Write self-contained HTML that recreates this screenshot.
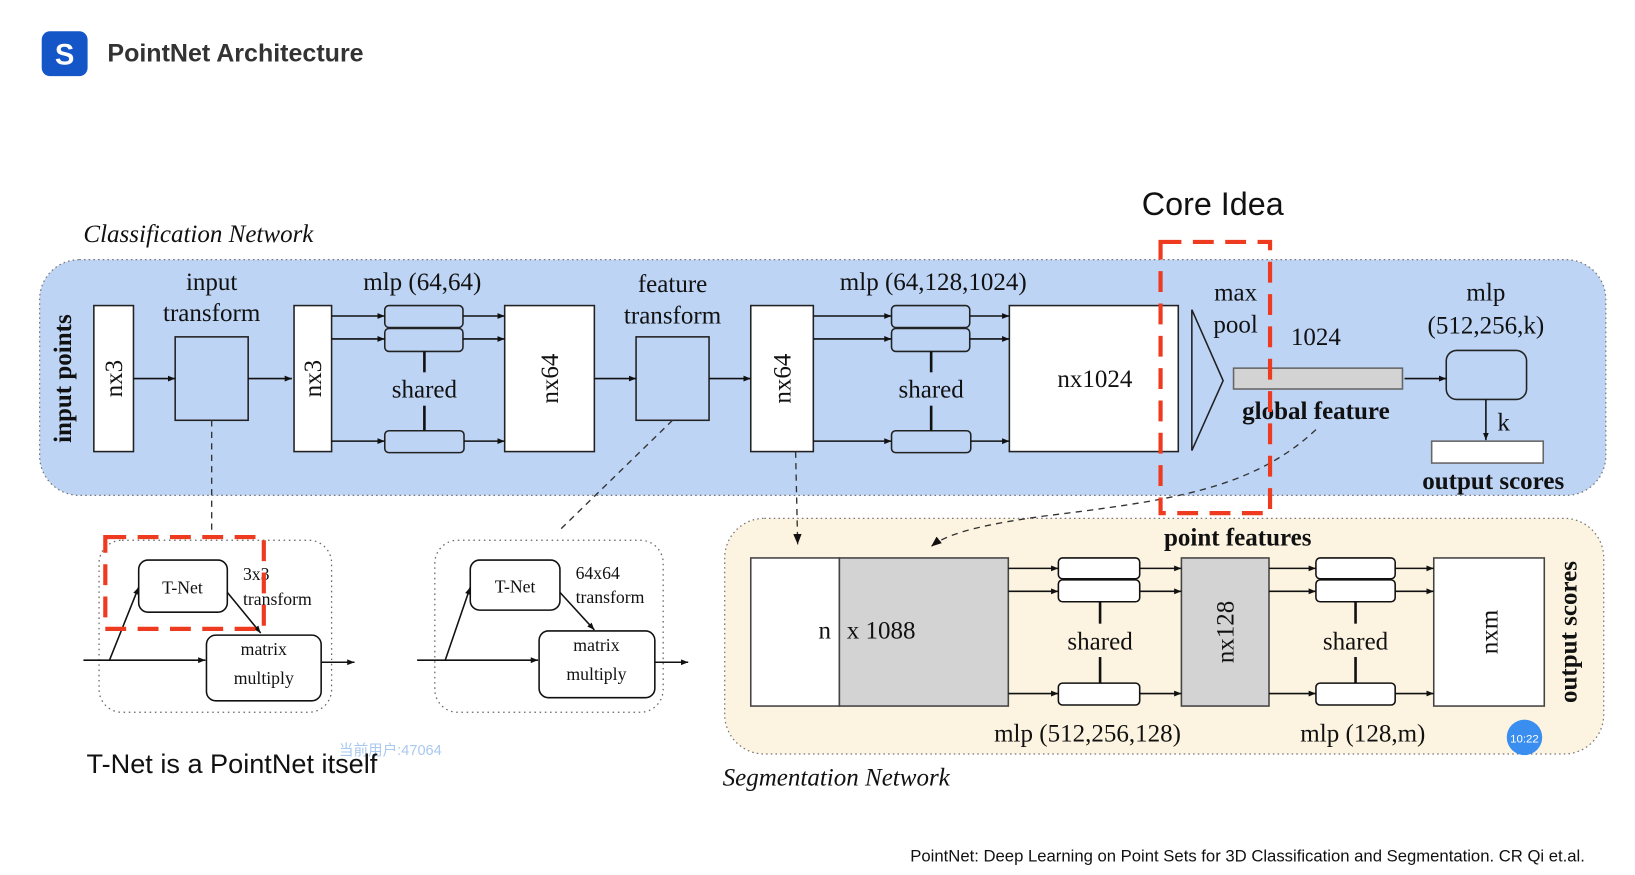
<!DOCTYPE html>
<html><head><meta charset="utf-8"><style>
html,body{margin:0;padding:0;background:#fff;}
svg{display:block}
.s{font-family:"Liberation Serif",serif;fill:#111}
.a{font-family:"Liberation Sans","Noto Sans CJK SC",sans-serif}
</style></head><body>
<svg width="1635" height="875" viewBox="0 0 1568 839" preserveAspectRatio="none" xmlns="http://www.w3.org/2000/svg">
<defs>
<marker id="ar" viewBox="0 0 10 10" refX="10" refY="5" markerWidth="7" markerHeight="7" orient="auto-start-reverse" markerUnits="userSpaceOnUse"><path d="M0,1 L10,5 L0,9 z" fill="#111"/></marker>
<marker id="ar3" viewBox="0 0 10 10" refX="10" refY="5" markerWidth="10" markerHeight="10" orient="auto" markerUnits="userSpaceOnUse"><path d="M0,1 L10,5 L0,9 z" fill="#111"/></marker>
</defs>
<rect x="40" y="30" width="44" height="43" rx="8" fill="#1456c8"/>
<text x="62" y="62" text-anchor="middle" font-family="Liberation Sans,sans-serif" font-weight="bold" font-size="28" fill="#fff">S</text>
<text x="103" y="59" class="a" font-weight="bold" font-size="24" fill="#333">PointNet Architecture</text>

<text x="80" y="232" class="s" font-style="italic" font-size="24">Classification Network</text>
<rect x="38" y="249" width="1502" height="226" rx="38" fill="#bdd4f5" stroke="#777" stroke-dasharray="1.5 3" stroke-width="1.2"/>
<text transform="translate(68,363) rotate(-90)" text-anchor="middle" class="s" font-weight="bold" font-size="24">input points</text>

<g stroke="#222" stroke-width="1.5" fill="#fff">
<rect x="90" y="293" width="38" height="140"/>
<rect x="168" y="323" width="70" height="80" fill="none"/>
<rect x="282" y="293" width="36" height="140"/>
<rect x="484" y="293" width="86" height="140"/>
<rect x="610" y="323" width="70" height="80" fill="none"/>
<rect x="720" y="293" width="60" height="140"/>
<rect x="968" y="293" width="162" height="140"/>
<rect x="369" y="293" width="75" height="21" rx="4" fill="none"/>
<rect x="369" y="315" width="75" height="22" rx="4" fill="none"/>
<rect x="369" y="413" width="76" height="21" rx="4" fill="none"/>
<rect x="855" y="293" width="75" height="21" rx="4" fill="none"/>
<rect x="855" y="315" width="75" height="22" rx="4" fill="none"/>
<rect x="855" y="413" width="76" height="21" rx="4" fill="none"/>
<polygon points="1143,297 1173,365 1143,432" fill="none"/>
<rect x="1183" y="353" width="162" height="20" fill="#d3d3d3" stroke="#666"/>
<rect x="1387" y="336" width="77" height="47" rx="10" fill="none"/>
<rect x="1373" y="423" width="107" height="21" stroke="#666"/>
</g>
<g stroke="#111" stroke-width="1.5" fill="none" marker-end="url(#ar)">
<line x1="128" y1="363" x2="168" y2="363"/>
<line x1="238" y1="363" x2="280" y2="363"/>
<line x1="318" y1="303" x2="369" y2="303"/>
<line x1="318" y1="325" x2="369" y2="325"/>
<line x1="318" y1="423" x2="369" y2="423"/>
<line x1="444" y1="303" x2="484" y2="303"/>
<line x1="444" y1="325" x2="484" y2="325"/>
<line x1="445" y1="423" x2="484" y2="423"/>
<line x1="570" y1="363" x2="610" y2="363"/>
<line x1="680" y1="363" x2="720" y2="363"/>
<line x1="780" y1="303" x2="855" y2="303"/>
<line x1="780" y1="325" x2="855" y2="325"/>
<line x1="780" y1="423" x2="855" y2="423"/>
<line x1="930" y1="303" x2="968" y2="303"/>
<line x1="930" y1="325" x2="968" y2="325"/>
<line x1="931" y1="423" x2="968" y2="423"/>
<line x1="1347" y1="363" x2="1387" y2="363"/>
<line x1="1425" y1="383" x2="1425" y2="422"/>
</g>
<g stroke="#111" stroke-width="2.5">
<line x1="407" y1="337" x2="407" y2="357"/><line x1="407" y1="389" x2="407" y2="413"/>
<line x1="893" y1="337" x2="893" y2="357"/><line x1="893" y1="389" x2="893" y2="413"/>
</g>
<g class="s" font-size="24" text-anchor="middle">
<text transform="translate(117,363) rotate(-90)">nx3</text>
<text transform="translate(308,363) rotate(-90)">nx3</text>
<text transform="translate(535,363) rotate(-90)">nx64</text>
<text transform="translate(758,363) rotate(-90)">nx64</text>
<text x="203" y="278">input</text><text x="203" y="308">transform</text>
<text x="645" y="280">feature</text><text x="645" y="310">transform</text>
<text x="405" y="278">mlp (64,64)</text>
<text x="895" y="278">mlp (64,128,1024)</text>
<text x="407" y="381">shared</text><text x="893" y="381">shared</text>
<text x="1050" y="371">nx1024</text>
<text x="1185" y="288">max</text><text x="1185" y="319">pool</text>
<text x="1262" y="331">1024</text>
<text x="1425" y="288">mlp</text><text x="1425" y="320">(512,256,k)</text>
<text x="1442" y="413">k</text>
<text x="1262" y="402" font-weight="bold">global feature</text>
<text x="1432" y="469" font-weight="bold">output scores</text>
</g>

<rect x="695" y="497" width="843" height="226" rx="38" fill="#fcf4e0" stroke="#777" stroke-dasharray="1.5 3" stroke-width="1.2"/>

<g stroke="#333" stroke-width="1.3" fill="none" stroke-dasharray="6 5">
<line x1="203" y1="403" x2="203" y2="510"/>
<line x1="645" y1="403" x2="535" y2="510"/>
<line x1="763" y1="433" x2="765" y2="522" marker-end="url(#ar3)"/>
<path d="M1262,412 C1200,470 1120,480 1000,495 C950,502 910,510 893,524" marker-end="url(#ar3)"/>
</g>

<g stroke="#444" stroke-width="1.5">
<rect x="720" y="535" width="85" height="142" fill="#fff"/>
<rect x="805" y="535" width="162" height="142" fill="#d3d3d3"/>
<rect x="1133" y="535" width="84" height="142" fill="#d3d3d3"/>
<rect x="1375" y="535" width="106" height="142" fill="#fff"/>
</g>
<g stroke="#111" stroke-width="1.5" fill="#fff">
<rect x="1015" y="535" width="78" height="20" rx="4"/>
<rect x="1015" y="556" width="78" height="21" rx="4"/>
<rect x="1015" y="655" width="78" height="21" rx="4"/>
<rect x="1262" y="535" width="76" height="20" rx="4"/>
<rect x="1262" y="556" width="76" height="21" rx="4"/>
<rect x="1262" y="655" width="76" height="21" rx="4"/>
</g>
<g stroke="#111" stroke-width="1.5" fill="none" marker-end="url(#ar)">
<line x1="967" y1="545" x2="1015" y2="545"/><line x1="967" y1="567" x2="1015" y2="567"/><line x1="967" y1="665" x2="1015" y2="665"/>
<line x1="1093" y1="545" x2="1133" y2="545"/><line x1="1093" y1="567" x2="1133" y2="567"/><line x1="1093" y1="665" x2="1133" y2="665"/>
<line x1="1217" y1="545" x2="1262" y2="545"/><line x1="1217" y1="567" x2="1262" y2="567"/><line x1="1217" y1="665" x2="1262" y2="665"/>
<line x1="1338" y1="545" x2="1375" y2="545"/><line x1="1338" y1="567" x2="1375" y2="567"/><line x1="1338" y1="665" x2="1375" y2="665"/>
</g>
<g stroke="#111" stroke-width="2.5">
<line x1="1055" y1="577" x2="1055" y2="598"/><line x1="1055" y1="630" x2="1055" y2="655"/>
<line x1="1300" y1="577" x2="1300" y2="598"/><line x1="1300" y1="630" x2="1300" y2="655"/>
</g>
<g class="s" font-size="24" text-anchor="middle">
<text x="1187" y="523" font-weight="bold">point features</text>
<text x="797" y="612" text-anchor="end">n</text>
<text x="812" y="612" text-anchor="start">x 1088</text>
<text x="1055" y="623">shared</text><text x="1300" y="623">shared</text>
<text transform="translate(1183,606) rotate(-90)">nx128</text>
<text transform="translate(1436,606) rotate(-90)">nxm</text>
<text transform="translate(1512,606) rotate(-90)" font-weight="bold">output scores</text>
<text x="1043" y="711">mlp (512,256,128)</text>
<text x="1307" y="711">mlp (128,m)</text>
</g>
<text x="693" y="753" class="s" font-style="italic" font-size="24">Segmentation Network</text>
<circle cx="1462" cy="707" r="17" fill="#3a8ef0"/>
<text x="1462" y="712" text-anchor="middle" font-family="Liberation Sans,sans-serif" font-size="11" fill="#fff">10:22</text>

<rect x="95" y="518" width="223" height="165" rx="22" fill="none" stroke="#666" stroke-dasharray="1.5 3.5" stroke-width="1.2"/>
<rect x="417" y="518" width="219" height="165" rx="22" fill="none" stroke="#666" stroke-dasharray="1.5 3.5" stroke-width="1.2"/>
<g stroke="#111" stroke-width="1.5" fill="#fff">
<rect x="133" y="537" width="85" height="50" rx="9"/>
<rect x="198" y="609" width="110" height="63" rx="9"/>
<rect x="451" y="537" width="86" height="48" rx="9"/>
<rect x="517" y="605" width="111" height="64" rx="9"/>
</g>
<g stroke="#111" stroke-width="1.5" fill="none" marker-end="url(#ar)">
<line x1="80" y1="633" x2="197" y2="633"/>
<line x1="105" y1="633" x2="133" y2="563"/>
<line x1="218" y1="568" x2="250" y2="607"/>
<line x1="308" y1="635" x2="340" y2="635"/>
<line x1="400" y1="633" x2="516" y2="633"/>
<line x1="427" y1="633" x2="451" y2="563"/>
<line x1="537" y1="568" x2="570" y2="604"/>
<line x1="628" y1="635" x2="660" y2="635"/>
</g>
<g class="s" font-size="17" text-anchor="middle">
<text x="175" y="569">T-Net</text><text x="253" y="628">matrix</text><text x="253" y="656">multiply</text>
<text x="494" y="568">T-Net</text><text x="572" y="624">matrix</text><text x="572" y="652">multiply</text>
<text x="233" y="556" text-anchor="start">3x3</text><text x="233" y="580" text-anchor="start">transform</text>
<text x="552" y="555" text-anchor="start">64x64</text><text x="552" y="578" text-anchor="start">transform</text>
</g>

<g stroke="#ee3a1f" stroke-width="4" fill="none" stroke-dasharray="20 11">
<rect x="1113" y="232" width="105" height="260"/>
<rect x="101" y="515" width="152" height="88"/>
</g>
<text x="1095" y="206" class="a" font-size="31" fill="#111">Core Idea</text>

<text x="325" y="724" class="a" font-size="14" fill="#a9c8ee">当前用户:47064</text>
<text x="83" y="741" class="a" font-size="26" fill="#111">T-Net is a PointNet itself</text>
<text x="873" y="826" class="a" font-size="16" fill="#111">PointNet: Deep Learning on Point Sets for 3D Classification and Segmentation. CR Qi et.al.</text>
</svg>
</body></html>
